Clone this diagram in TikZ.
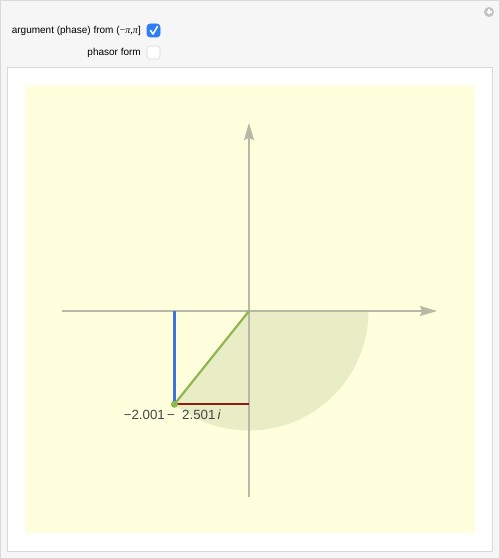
\documentclass[tikz,border=0pt]{standalone}
\usepackage{fontspec}
\setmainfont{Liberation Sans}
\newfontfamily\greekserif{Liberation Serif}
\usetikzlibrary{positioning, arrows.meta, calc}
\definecolor{panelgray}{HTML}{F6F6F6}
\definecolor{edgegray}{HTML}{D9D9D9}
\definecolor{plotyellow}{HTML}{FFFFDD}
\definecolor{axisgray}{HTML}{B8B8A8}
\definecolor{sectorgreen}{HTML}{E8EDC6}
\definecolor{phasegreen}{HTML}{8DB750}
\definecolor{reblue}{HTML}{3F72DB}
\definecolor{imred}{HTML}{8E1C0F}
\definecolor{boxblue}{HTML}{2F7DF6}
\definecolor{labelgray}{HTML}{454545}

\begin{document}
\begin{tikzpicture}[x=1pt, y=-1pt,
    axis/.style={draw=axisgray, line width=1.1pt, -{Stealth[length=17pt, width=10pt, inset=2pt]}},
    ctrl/.style={font=\fontsize{10}{12}\selectfont, text=black, inner sep=0pt, anchor=east},
    chkbox/.style={rounded corners=3pt, line width=0.6pt},
    comp/.style={line width=2.2pt}]
\useasboundingbox (0,0) rectangle (500,559);
\fill[panelgray] (0,0) rectangle (500,559);
\draw[edgegray] (0.5,0.5) rectangle (499.5,558.5);

% controls
\node[ctrl] (argtext) at (141,31) {argument (phase) from ({\greekserif −\textit{π},\textit{π}}]};
\node[ctrl] (phasortext) at (141,53) {phasor form};
\filldraw[chkbox, fill=boxblue, draw=boxblue] (147,24) rectangle (160,37);
\draw[white, line width=1.6pt, line cap=round, line join=round] (150.5,30.5) -- (153,34) -- (157.5,26.5);
\filldraw[chkbox, fill=white, draw=edgegray] (147,46) rectangle (160,59);
\fill[edgegray!90!black] (489,12) circle (5);
\draw[white, line width=1.2pt] (486.5,12) -- (491.5,12) (489,9.5) -- (489,14.5);

% plot panel
\filldraw[fill=white, draw=edgegray] (7.5,67.5) rectangle (492.5,551.5);
\fill[plotyellow] (25,85) rectangle (475,533);

\coordinate (origin) at (249,311);
\coordinate (xstart) at (62,311);
\coordinate (xend) at (437,311);
\coordinate (ystart) at (249,497);
\coordinate (yend) at (249,123);
\coordinate (zpt) at (174.4,404.3);
\coordinate (repart) at (174.4,311);
\coordinate (impart) at (249,404.3);

\fill[sectorgreen] (origin) -- ++(119.5,0) arc[start angle=0, end angle=128.66, radius=119.5] -- cycle;
\draw[axis] (xstart) -- (xend);
\draw[axis] (ystart) -- (yend);

\draw[comp, reblue] (repart) -- (zpt);
\draw[comp, imred] (zpt) -- (impart);
\draw[comp, phasegreen] (origin) -- (zpt);
\node[circle, fill=phasegreen, inner sep=0pt, minimum size=7pt] (zdot) at (zpt) {};
\node[below=-2pt of zdot, xshift=-2pt, text=labelgray, font=\fontsize{13.3}{15}\selectfont] (zlabel)
  {−2.001\,−\ \ 2.501\,\textit{i}};
\end{tikzpicture}
\end{document}
